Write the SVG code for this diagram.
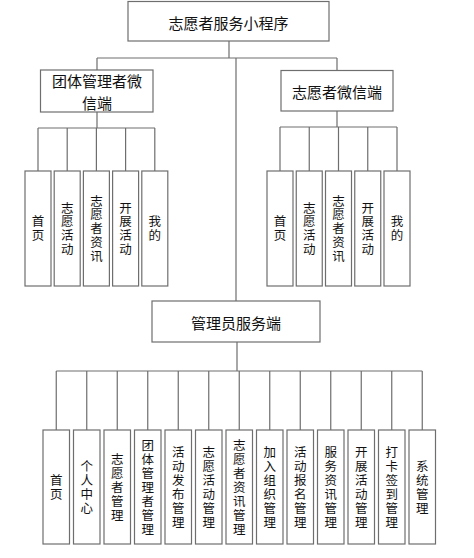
<svg xmlns="http://www.w3.org/2000/svg" width="474" height="558" viewBox="0 0 474 558">
<style>
.box{fill:#fff;stroke:#6e6e6e;stroke-width:1.2}
.ln{fill:none;stroke:#6e6e6e;stroke-width:1.2}
.t{font-family:"Noto Sans CJK SC","Noto Sans",sans-serif;fill:#111;text-anchor:middle;dominant-baseline:central}
.big{font-size:15px}
.v{font-size:12.5px;writing-mode:vertical-rl;text-orientation:upright;dominant-baseline:central}
.v1{letter-spacing:1.2px}
.v2{letter-spacing:1.5px}
</style>
<rect width="474" height="558" fill="#fff"/>
<g id="connectors">
<path class="ln" d="M229 41V58M97 58H337M97 58V70M337 58V70.5M236 58V301"/>
<path class="ln" d="M97 112V128M38 128H155M38 128V171M67.2 128V171M96.4 128V171M125.6 128V171M154.8 128V171"/>
<path class="ln" d="M337 111V127M280 127H397M280 127V171M309.25 127V171M338.5 127V171M367.75 127V171M397 127V171"/>
<path class="ln" d="M237 342V371M56.25 371H422.25M56.25 371V430M86.75 371V430M117.25 371V430M147.75 371V430M178.25 371V430M208.75 371V430M239.25 371V430M269.75 371V430M300.25 371V430M330.75 371V430M361.25 371V430M391.75 371V430M422.25 371V430"/>
</g>
<g id="root"><rect class="box" x="128" y="1.5" width="201" height="39.5"/><text class="t big" x="228.5" y="22">志愿者服务小程序</text></g>
<g id="group-admin"><rect class="box" x="40.5" y="70" width="112.5" height="42"/><text class="t big" x="97" y="80.5">团体管理者微</text><text class="t big" x="97" y="102.5">信端</text></g>
<g id="volunteer"><rect class="box" x="281" y="70.5" width="112" height="40.5"/><text class="t big" x="337" y="91.5">志愿者微信端</text></g>
<g id="admin"><rect class="box" x="152" y="301" width="168" height="41"/><text class="t big" x="236" y="322">管理员服务端</text></g>

<g id="l1"><rect class="box" x="25" y="171" width="26" height="115"/><text class="t v v1" x="38" y="229">首页</text></g>
<g id="l2"><rect class="box" x="54.2" y="171" width="26" height="115"/><text class="t v v1" x="67.2" y="229">志愿活动</text></g>
<g id="l3"><rect class="box" x="83.4" y="171" width="26" height="115"/><text class="t v v1" x="96.4" y="229">志愿者资讯</text></g>
<g id="l4"><rect class="box" x="112.6" y="171" width="26" height="115"/><text class="t v v1" x="125.6" y="229">开展活动</text></g>
<g id="l5"><rect class="box" x="141.8" y="171" width="26" height="115"/><text class="t v v1" x="154.8" y="229">我的</text></g>

<g id="r1"><rect class="box" x="267" y="171" width="26" height="115"/><text class="t v v1" x="280" y="229">首页</text></g>
<g id="r2"><rect class="box" x="296.25" y="171" width="26" height="115"/><text class="t v v1" x="309.25" y="229">志愿活动</text></g>
<g id="r3"><rect class="box" x="325.5" y="171" width="26" height="115"/><text class="t v v1" x="338.5" y="229">志愿者资讯</text></g>
<g id="r4"><rect class="box" x="354.75" y="171" width="26" height="115"/><text class="t v v1" x="367.75" y="229">开展活动</text></g>
<g id="r5"><rect class="box" x="384" y="171" width="26" height="115"/><text class="t v v1" x="397" y="229">我的</text></g>

<g id="b1"><rect class="box" x="43" y="430" width="26.5" height="114"/><text class="t v v2" x="56.25" y="487.5">首页</text></g>
<g id="b2"><rect class="box" x="73.5" y="430" width="26.5" height="114"/><text class="t v v2" x="86.75" y="487.5">个人中心</text></g>
<g id="b3"><rect class="box" x="104" y="430" width="26.5" height="114"/><text class="t v v2" x="117.25" y="487.5">志愿者管理</text></g>
<g id="b4"><rect class="box" x="134.5" y="430" width="26.5" height="114"/><text class="t v v2" x="147.75" y="487.5">团体管理者管理</text></g>
<g id="b5"><rect class="box" x="165" y="430" width="26.5" height="114"/><text class="t v v2" x="178.25" y="487.5">活动发布管理</text></g>
<g id="b6"><rect class="box" x="195.5" y="430" width="26.5" height="114"/><text class="t v v2" x="208.75" y="487.5">志愿活动管理</text></g>
<g id="b7"><rect class="box" x="226" y="430" width="26.5" height="114"/><text class="t v v2" x="239.25" y="487.5">志愿者资讯管理</text></g>
<g id="b8"><rect class="box" x="256.5" y="430" width="26.5" height="114"/><text class="t v v2" x="269.75" y="487.5">加入组织管理</text></g>
<g id="b9"><rect class="box" x="287" y="430" width="26.5" height="114"/><text class="t v v2" x="300.25" y="487.5">活动报名管理</text></g>
<g id="b10"><rect class="box" x="317.5" y="430" width="26.5" height="114"/><text class="t v v2" x="330.75" y="487.5">服务资讯管理</text></g>
<g id="b11"><rect class="box" x="348" y="430" width="26.5" height="114"/><text class="t v v2" x="361.25" y="487.5">开展活动管理</text></g>
<g id="b12"><rect class="box" x="378.5" y="430" width="26.5" height="114"/><text class="t v v2" x="391.75" y="487.5">打卡签到管理</text></g>
<g id="b13"><rect class="box" x="409" y="430" width="26.5" height="114"/><text class="t v v2" x="422.25" y="487.5">系统管理</text></g>
</svg>
